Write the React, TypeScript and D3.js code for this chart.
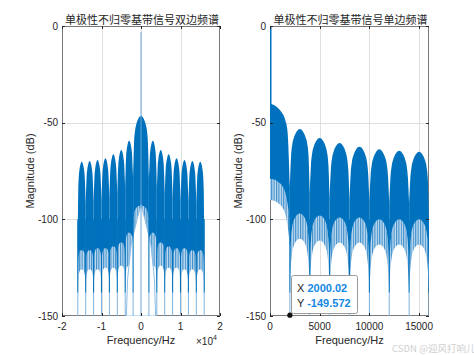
import React from 'react';
import * as d3 from 'd3';

// ---------- data ----------
// double-sided spectrum: lobes between consecutive nulls (Hz)
const leftNulls = [-16000, -14000, -12000, -10000, -8000, -6000, -4000, -2000, 2000, 4000, 6000, 8000, 10000, 12000, 14000, 16000];
const leftPeaks = [-70.2, -69.8, -69.3, -68.4, -66.4, -64.1, -59.3, -46.5, -59.3, -64.1, -66.4, -68.4, -69.3, -69.8, -70.2];
const leftNotches = [-105, -92, -91, -90, -89, -87, -84, -79, -79, -84, -87, -89, -90, -91, -92, -105];
const leftFloors = [-116, -116, -115, -115, -114, -112, -107, -93, -107, -112, -114, -115, -115, -116, -116];
const leftFringes = [-126, -126, -126, -125, -125, -124, -124, -122, -124, -124, -125, -125, -126, -126, -126];
const leftDC = -3;
// empty wedge below the main lobe (Hz, dB)
const leftGapF = [-3700, -3400, -2500, -1000, 0, 1000, 2500, 3400, 3700];
const leftGapDb = [-150, -131, -113, -100, -92.5, -100, -113, -131, -150];

// single-sided spectrum
const rightNulls = [-2000, 2000, 4000, 6000, 8000, 10000, 12000, 14000, 16000];
const rightPeaks = [-40.4, -53.3, -57.9, -60.5, -62.4, -63.8, -64.5, -65];
const rightNotches = [-80, -83, -87, -89, -90, -91, -92, -92, -100];
const rightFloors = [-79, -97, -98, -99, -99, -100, -100, -100];
const rightFringes = [-90, -110, -111, -112, -112, -113, -113, -113];
const rightDC = 0;

// lobe envelope templates (dB offsets at fractional lobe positions)
const lobeFracs = [0.06, 0.12, 0.2, 0.3, 0.4, 0.5, 0.6, 0.7, 0.8, 0.88, 0.94];
const upperShape = [-14, -8, -4.5, -2, -0.5, 0, -0.5, -2, -4.5, -8, -14];
const leftLowerShape = [-5, -2.5, -1.2, -0.4, 0, 0, 0, -0.4, -1.2, -2.5, -5];
const leftLowerEdge = -12;
const rightLowerShape = [-13, -7, -3.5, -1.5, -0.4, 0, -0.4, -1.5, -3.5, -7, -13];
const rightLowerEdge = -24;

const leftXTicks = [-20000, -10000, 0, 10000, 20000];
const leftXTickLabels = ['-2', '-1', '0', '1', '2'];
const rightXTicks = [0, 5000, 10000, 15000];
const rightXTickLabels = ['0', '5000', '10000', '15000'];
const yTicks = [0, -50, -100, -150];
const yTickLabels = ['0', '-50', '-100', '-150'];

const leftTitle = '单极性不归零基带信号双边频谱';
const rightTitle = '单极性不归零基带信号单边频谱';
const xLabel = 'Frequency/Hz';
const yLabel = 'Magnitude (dB)';
const tipX = 2000.02;
const tipY = -149.572;
const watermark = 'CSDN @迎风打响儿';

// ---------- layout ----------
const W = 474, H = 355;
const Y0 = 26, Y1 = 316;
const FONT = "'Liberation Sans', Arial, Helvetica, sans-serif";
const BLUE = '#0072BD';
const TXT = '#262626';

type Pt = { f: number; up: number; lo: number; fr: number };

function buildLobes(nulls: number[], peaks: number[], notches: number[], floors: number[], fringes: number[], lowerShape: number[], lowerEdge: number): Pt[][] {
  const lobes: Pt[][] = [];
  for (let k = 0; k < peaks.length; k++) {
    const f0 = nulls[k], f1 = nulls[k + 1];
    const pts: Pt[] = [];
    pts.push({ f: f0, up: notches[k], lo: floors[k] + lowerEdge, fr: fringes[k] + lowerEdge });
    lobeFracs.forEach((t, i) => {
      pts.push({ f: f0 + t * (f1 - f0), up: peaks[k] + upperShape[i], lo: floors[k] + lowerShape[i], fr: fringes[k] + lowerShape[i] });
    });
    pts.push({ f: f1, up: notches[k + 1], lo: floors[k] + lowerEdge, fr: fringes[k] + lowerEdge });
    lobes.push(pts);
  }
  return lobes;
}

function Panel(props: {
  id: string; x0: number; x1: number; domain: [number, number];
  nulls: number[]; peaks: number[]; notches: number[]; floors: number[]; fringes: number[];
  lowerShape: number[]; lowerEdge: number;
  dc: number; dcLight: boolean;
  gapF?: number[]; gapDb?: number[];
  xTicks: number[]; xTickLabels: string[]; title: string; exponent: boolean; tip?: boolean;
}) {
  const { id, x0, x1, domain } = props;
  const x = d3.scaleLinear().domain(domain).range([x0, x1]);
  const y = d3.scaleLinear().domain([-150, 0]).range([Y1, Y0]);
  const lobes = buildLobes(props.nulls, props.peaks, props.notches, props.floors, props.fringes, props.lowerShape, props.lowerEdge);
  const darkArea = d3.area<Pt>().x(d => x(d.f)).y0(d => y(d.lo)).y1(d => y(d.up)).curve(d3.curveMonotoneX);
  const fringeArea = d3.area<Pt>().x(d => x(d.f)).y0(d => y(Math.min(d.fr, d.lo))).y1(d => y(d.lo) - 0.5).curve(d3.curveMonotoneX);
  const gapLine = d3.line<number>().x(i => x(props.gapF![i])).y(i => y(props.gapDb![i]));
  const gapIdx = props.gapF ? props.gapF.map((_, i) => i) : [];
  const cx = (x0 + x1) / 2;
  const nullsShown = props.nulls.filter(n => n > domain[0] && n <= domain[1]);
  const tickLen = 3;
  return (
    <g>
      <defs>
        <clipPath id={`clip-${id}`}>
          <rect x={x0} y={Y0} width={x1 - x0} height={Y1 - Y0} />
        </clipPath>
      </defs>
      <rect x={x0} y={Y0} width={x1 - x0} height={Y1 - Y0} fill="#fff" />
      {/* grid */}
      {props.xTicks.filter(t => t > domain[0] && t < domain[1]).map(t => (
        <line key={`gx${t}`} x1={Math.round(x(t)) + 0.5} x2={Math.round(x(t)) + 0.5} y1={Y0} y2={Y1} stroke="#dfdfdf" strokeWidth={1} />
      ))}
      {yTicks.filter(t => t > -150 && t < 0).map(t => (
        <line key={`gy${t}`} x1={x0} x2={x1} y1={Math.round(y(t)) + 0.5} y2={Math.round(y(t)) + 0.5} stroke="#dfdfdf" strokeWidth={1} />
      ))}
      {/* box */}
      <rect x={x0 + 0.5} y={Y0 + 0.5} width={x1 - x0 - 1} height={Y1 - Y0 - 1} fill="none" stroke="#7a7a7a" strokeWidth={1} />
      {/* data */}
      <g clipPath={`url(#clip-${id})`}>
        {lobes.map((l, i) => (
          <path key={`fr${i}`} d={fringeArea(l) || ''} fill={`url(#stripes)`} />
        ))}
        {lobes.map((l, i) => (
          <path key={`dk${i}`} d={darkArea(l) || ''} fill={BLUE} />
        ))}
        {gapIdx.length > 0 && (
          <path d={(gapLine(gapIdx) || '') + 'Z'} fill="#fff" stroke="#8cbce3" strokeWidth={1} />
        )}
        {nullsShown.map(n => (
          <g key={`n${n}`}>
            <line x1={x(n)} x2={x(n)} y1={y(-100)} y2={y(-138)} stroke={BLUE} strokeWidth={1.1} />
            <line x1={x(n)} x2={x(n)} y1={y(-138)} y2={y(-150)} stroke="#7fb3dd" strokeWidth={1} />
          </g>
        ))}
        {props.dcLight ? (
          <line x1={x(0)} x2={x(0)} y1={y(props.dc)} y2={y(-150)} stroke="#6aa6d8" strokeWidth={1} />
        ) : (
          <line x1={x(0) + 0.75} x2={x(0) + 0.75} y1={y(props.dc)} y2={y(-41)} stroke={BLUE} strokeWidth={1.5} />
        )}
      </g>
      {/* ticks */}
      {props.xTicks.map((t, i) => (
        <g key={`tx${t}`}>
          <line x1={Math.round(x(t)) + 0.5} x2={Math.round(x(t)) + 0.5} y1={Y1} y2={Y1 - tickLen} stroke={TXT} />
          <line x1={Math.round(x(t)) + 0.5} x2={Math.round(x(t)) + 0.5} y1={Y0} y2={Y0 + tickLen} stroke={TXT} />
          <text x={x(t)} y={Y1 + 14} textAnchor="middle" fontSize={10} fontFamily={FONT} fill={TXT}>
            {props.xTickLabels[i]}
          </text>
        </g>
      ))}
      {yTicks.map((t, i) => (
        <g key={`ty${t}`}>
          <line x1={x0} x2={x0 + tickLen} y1={Math.round(y(t)) + 0.5} y2={Math.round(y(t)) + 0.5} stroke={TXT} />
          <line x1={x1} x2={x1 - tickLen} y1={Math.round(y(t)) + 0.5} y2={Math.round(y(t)) + 0.5} stroke={TXT} />
          <text x={x0 - 4} y={y(t) + 3.5} textAnchor="end" fontSize={10} fontFamily={FONT} fill={TXT}>
            {yTickLabels[i]}
          </text>
        </g>
      ))}
      {/* labels */}
      <text x={cx} y={344} textAnchor="middle" fontSize={11} fontFamily={FONT} fill={TXT}>{xLabel}</text>
      <text transform={`translate(${x0 - 28.5},${(Y0 + Y1) / 2}) rotate(-90)`} textAnchor="middle" fontSize={11} fontFamily={FONT} fill={TXT}>{yLabel}</text>
      <text x={cx + 1} y={23.5} textAnchor="middle" fontSize={11} fontFamily="'Noto Sans CJK SC', sans-serif" fill={TXT}>{props.title}</text>
      {props.exponent && (
        <text x={x1 - 24} y={345} fontSize={10} fontFamily={FONT} fill={TXT}>
          ×10<tspan fontSize={7} dy={-5}>4</tspan>
        </text>
      )}
      {props.tip && (
        <g>
          <rect x={291.5} y={275.5} width={66} height={38} rx={2} fill="#fff" stroke="#9a9a9a" strokeWidth={1} />
          <text x={297} y={292} fontSize={11} fontFamily={FONT} fill={TXT}>
            X <tspan fontWeight="bold" fill="#1488e3">{tipX.toFixed(2)}</tspan>
          </text>
          <text x={297} y={307} fontSize={11} fontFamily={FONT} fill={TXT}>
            Y <tspan fontWeight="bold" fill="#1488e3">{tipY.toFixed(3)}</tspan>
          </text>
          <circle cx={x(tipX)} cy={y(tipY)} r={2.6} fill="#111" />
        </g>
      )}
    </g>
  );
}

export default function App() {
  return (
    <svg width={W} height={H} viewBox={`0 0 ${W} ${H}`} style={{ position: 'absolute', left: 0, top: 0, background: '#fff' }}>
      <defs>
        <pattern id="stripes" width={2.4} height={4} patternUnits="userSpaceOnUse">
          <rect width={2.4} height={4} fill="#c3dbf0" />
          <rect width={1.1} height={4} fill="#3c8ecb" />
        </pattern>
      </defs>
      <rect width={W} height={H} fill="#fff" />
      <Panel id="l" x0={62} x1={220} domain={[-20000, 20000]}
        nulls={leftNulls} peaks={leftPeaks} notches={leftNotches} floors={leftFloors} fringes={leftFringes}
        lowerShape={leftLowerShape} lowerEdge={leftLowerEdge} gapF={leftGapF} gapDb={leftGapDb}
        dc={leftDC} dcLight={true} xTicks={leftXTicks} xTickLabels={leftXTickLabels} title={leftTitle} exponent={true} />
      <Panel id="r" x0={270} x1={429} domain={[0, 16000]}
        nulls={rightNulls} peaks={rightPeaks} notches={rightNotches} floors={rightFloors} fringes={rightFringes}
        lowerShape={rightLowerShape} lowerEdge={rightLowerEdge}
        dc={rightDC} dcLight={false} xTicks={rightXTicks} xTickLabels={rightXTickLabels} title={rightTitle} exponent={false} tip={true} />
      <text x={392} y={352} fontSize={9.5} fontFamily="'Noto Sans CJK SC', sans-serif" fill="#cfcfcf">{watermark}</text>
    </svg>
  );
}
